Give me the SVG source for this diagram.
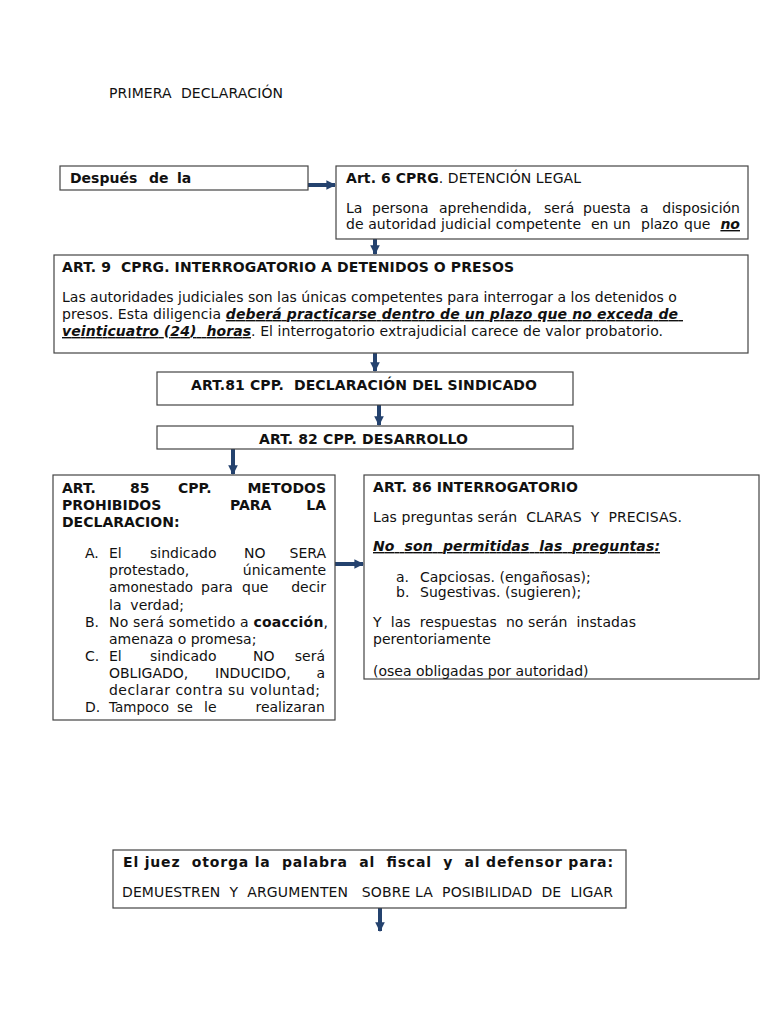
<svg xmlns="http://www.w3.org/2000/svg" width="768" height="1024" viewBox="0 0 768 1024">
<style>
text{font-family:"DejaVu Sans","Liberation Sans",sans-serif;font-size:14px;fill:#111;white-space:pre}
.b{font-weight:bold}
.bi{font-weight:bold;font-style:italic;text-decoration:underline}
.e{text-anchor:end}
.box{fill:#fff;stroke:#444;stroke-width:1.2}
.con{stroke:#24426e;stroke-width:4;fill:none}
</style>
<defs>
<marker id="ah" viewBox="0 0 10 10" refX="9" refY="5" markerWidth="2.4" markerHeight="2.4" orient="auto" markerUnits="strokeWidth">
<path d="M0,0 L10,5 L0,10 z" fill="#24426e"/>
</marker>
<clipPath id="c7"><rect x="364" y="475" width="395" height="204"/></clipPath>
</defs>
<rect width="768" height="1024" fill="#fff"/>
<text x="109" y="98" xml:space="preserve" textLength="174" lengthAdjust="spacing">PRIMERA  DECLARACIÓN</text>

<g id="connectors">
<line class="con" x1="308" y1="185" x2="335" y2="185" marker-end="url(#ah)"/>
<line class="con" x1="375" y1="239" x2="375" y2="254" marker-end="url(#ah)"/>
<line class="con" x1="375" y1="353" x2="375" y2="371" marker-end="url(#ah)"/>
<line class="con" x1="379" y1="405" x2="379" y2="425" marker-end="url(#ah)"/>
<line class="con" x1="233" y1="449" x2="233" y2="474" marker-end="url(#ah)"/>
<line class="con" x1="335" y1="564" x2="363" y2="564" marker-end="url(#ah)"/>
<line class="con" x1="380" y1="908" x2="380" y2="931" marker-end="url(#ah)"/>
</g>

<g id="n1">
<rect class="box" x="60" y="166" width="248" height="24"/>
<text class="b" y="183"><tspan x="70">Después</tspan><tspan x="149">de</tspan><tspan x="177">la</tspan></text>
</g>

<g id="n2">
<rect class="box" x="336" y="166" width="412" height="73"/>
<text x="346" y="183" textLength="235" lengthAdjust="spacing"><tspan class="b">Art. 6 CPRG</tspan>. DETENCIÓN LEGAL</text>
<text y="213"><tspan x="346">La</tspan><tspan x="372">persona</tspan><tspan x="439">aprehendida,</tspan><tspan x="544">será</tspan><tspan x="583">puesta</tspan><tspan x="640">a</tspan></text>
<text class="e" x="740" y="213">disposición</text>
<text x="346" y="229" textLength="235" lengthAdjust="spacing">de autoridad judicial competente</text>
<text y="229"><tspan x="591">en</tspan><tspan x="613">un</tspan><tspan x="641">plazo</tspan><tspan x="684">que</tspan></text>
<text class="bi e" x="740" y="229">no</text>
</g>

<g id="n3">
<rect class="box" x="54" y="255" width="694" height="98"/>
<text class="b" x="62" y="272" xml:space="preserve" textLength="452" lengthAdjust="spacing">ART. 9  CPRG. INTERROGATORIO A DETENIDOS O PRESOS</text>
<text x="62" y="302">Las autoridades judiciales son las únicas competentes para interrogar a los detenidos o</text>
<text x="62" y="319" xml:space="preserve" textLength="621" lengthAdjust="spacing">presos. Esta diligencia <tspan class="bi">deberá practicarse dentro de un plazo que no exceda de </tspan></text>
<text x="62" y="336" xml:space="preserve" textLength="601" lengthAdjust="spacing"><tspan class="bi">veinticuatro (24)  horas</tspan>. El interrogatorio extrajudicial carece de valor probatorio.</text>
</g>

<g id="n4">
<rect class="box" x="157" y="372" width="416" height="33"/>
<text class="b" x="191" y="390" xml:space="preserve" textLength="346" lengthAdjust="spacing">ART.81 CPP.  DECLARACIÓN DEL SINDICADO</text>
</g>

<g id="n5">
<rect class="box" x="157" y="426" width="416" height="23"/>
<text class="b" x="259" y="444" textLength="209" lengthAdjust="spacing">ART. 82 CPP. DESARROLLO</text>
</g>

<g id="n6">
<rect class="box" x="53" y="475" width="282" height="245"/>
<text class="b" y="493"><tspan x="62">ART.</tspan><tspan x="130">85</tspan><tspan x="178">CPP.</tspan></text>
<text class="b e" x="326" y="493">METODOS</text>
<text class="b" x="62" y="510">PROHIBIDOS</text>
<text class="b" x="230" y="510">PARA</text>
<text class="b e" x="326" y="510">LA</text>
<text class="b" x="62" y="527">DECLARACION:</text>

<text x="85" y="558">A.</text>
<text y="558"><tspan x="109">El</tspan><tspan x="150">sindicado</tspan><tspan x="244">NO</tspan></text>
<text class="e" x="326" y="558">SERA</text>
<text x="109" y="575">protestado,</text>
<text class="e" x="326" y="575">únicamente</text>
<text x="109" y="592" textLength="84" lengthAdjust="spacingAndGlyphs">amonestado</text>
<text y="592"><tspan x="201">para</tspan><tspan x="242">que</tspan></text>
<text class="e" x="326" y="592">decir</text>
<text xml:space="preserve" x="109" y="610">la  verdad;</text>

<text x="85" y="627">B.</text>
<text x="109" y="627" textLength="219" lengthAdjust="spacing">No será sometido a <tspan class="b">coacción</tspan>,</text>
<text x="109" y="644">amenaza o promesa;</text>

<text x="85" y="661">C.</text>
<text y="661"><tspan x="109">El</tspan><tspan x="150">sindicado</tspan><tspan x="253">NO</tspan></text>
<text class="e" x="325" y="661">será</text>
<text x="109" y="678">OBLIGADO,</text>
<text x="215" y="678">INDUCIDO,</text>
<text class="e" x="325" y="678">a</text>
<text x="109" y="695" textLength="211" lengthAdjust="spacing">declarar contra su voluntad;</text>

<text x="85" y="712">D.</text>
<text x="109" y="712" textLength="60" lengthAdjust="spacingAndGlyphs">Tampoco</text>
<text y="712"><tspan x="177">se</tspan><tspan x="204">le</tspan></text>
<text class="e" x="325" y="712">realizaran</text>
</g>

<g id="n7">
<rect class="box" x="364" y="475" width="395" height="204"/>
<text class="b" x="373" y="492" textLength="205" lengthAdjust="spacing">ART. 86 INTERROGATORIO</text>
<text x="373" y="522" xml:space="preserve" textLength="309" lengthAdjust="spacing">Las preguntas serán  CLARAS  Y  PRECISAS.</text>
<text class="bi" x="373" y="551" xml:space="preserve" textLength="287" lengthAdjust="spacing">No  son  permitidas  las  preguntas:</text>
<text x="396" y="582">a.</text>
<text x="420" y="582">Capciosas. (engañosas);</text>
<text x="396" y="597">b.</text>
<text x="420" y="597">Sugestivas. (sugieren);</text>
<text x="373" y="627" xml:space="preserve" textLength="263" lengthAdjust="spacing">Y  las  respuestas  no serán  instadas</text>
<text x="373" y="644">perentoriamente</text>
<text x="373" y="676" clip-path="url(#c7)">(osea obligadas por autoridad)</text>
</g>

<g id="n8">
<rect class="box" x="113" y="850" width="513" height="58"/>
<text class="b" x="123" y="867" xml:space="preserve" textLength="490" lengthAdjust="spacing">El juez  otorga la  palabra  al  fiscal  y  al defensor para:</text>
<text x="122" y="897" xml:space="preserve" textLength="491" lengthAdjust="spacing">DEMUESTREN  Y  ARGUMENTEN   SOBRE LA  POSIBILIDAD  DE  LIGAR</text>
</g>
</svg>
